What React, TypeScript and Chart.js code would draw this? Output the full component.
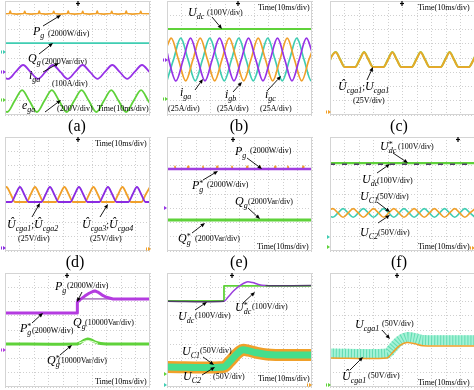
import React, { useEffect, useRef } from "react";
import { Chart, registerables } from "chart.js";
Chart.register(...registerables);

type Pt = [number, number];

// ---------------- (a) ----------------
const aPg: Pt[] = [[0,7.1],[0.3,7.12],[0.36,7.3],[0.42,7.12],[0.8,7.08],[1.3,7.12],[1.36,7.28],[1.42,7.12],[1.8,7.08],[2.3,7.12],[2.36,7.3],[2.42,7.12],[2.8,7.08],[3.3,7.12],[3.36,7.28],[3.42,7.12],[3.8,7.08],[4.3,7.12],[4.36,7.3],[4.42,7.12],[4.8,7.08],[5.3,7.12],[5.36,7.28],[5.42,7.12],[5.8,7.08],[6.3,7.12],[6.36,7.3],[6.42,7.12],[6.8,7.08],[7.3,7.12],[7.36,7.28],[7.42,7.12],[7.8,7.08],[8.3,7.12],[8.36,7.3],[8.42,7.12],[8.8,7.08],[9.3,7.12],[9.36,7.28],[9.42,7.12],[10,7.1]];
const aQg: Pt[] = [[0,5.05],[10,5.05]];
const aIga: Pt[] = [[0,2.6],[0.22,2.53],[0.73,3.02],[1.25,3.51],[1.76,3.02],[2.28,2.53],[2.79,3.02],[3.3,3.51],[3.82,3.02],[4.33,2.53],[4.84,3.02],[5.35,3.51],[5.86,3.02],[6.38,2.53],[6.89,3.02],[7.4,3.51],[7.91,3.02],[8.43,2.53],[8.94,3.02],[9.45,3.51],[9.96,3.02],[10,2.98]];
const aEga: Pt[] = [[0,0.25],[0.15,0.21],[0.66,0.98],[1.18,1.75],[1.69,0.98],[2.2,0.21],[2.71,0.98],[3.23,1.75],[3.74,0.98],[4.25,0.21],[4.76,0.98],[5.28,1.75],[5.79,0.98],[6.3,0.21],[6.81,0.98],[7.33,1.75],[7.84,0.98],[8.35,0.21],[8.86,0.98],[9.38,1.75],[9.89,0.98],[10,0.82]];

// ---------------- (b) ----------------
const bUdc: Pt[] = [[0,6.04],[10,6.04]];
const bIga: Pt[] = [[0,4.45],[0.12,3.89],[0.62,2.39],[1.12,3.89],[1.62,5.39],[2.12,3.89],[2.62,2.39],[3.12,3.89],[3.62,5.39],[4.12,3.89],[4.62,2.39],[5.12,3.89],[5.62,5.39],[6.12,3.89],[6.62,2.39],[7.12,3.89],[7.62,5.39],[8.12,3.89],[8.62,2.39],[9.12,3.89],[9.62,5.39],[10,4.45]];
const bIgb: Pt[] = [[0,4.82],[0.29,5.39],[0.79,3.89],[1.29,2.39],[1.79,3.89],[2.29,5.39],[2.79,3.89],[3.29,2.39],[3.79,3.89],[4.29,5.39],[4.79,3.89],[5.29,2.39],[5.79,3.89],[6.29,5.39],[6.79,3.89],[7.29,2.39],[7.79,3.89],[8.29,5.39],[8.79,3.89],[9.29,2.39],[9.79,3.89],[10,4.45]];
const bIgc: Pt[] = [[0,2.41],[0.45,3.89],[0.95,5.39],[1.45,3.89],[1.95,2.39],[2.45,3.89],[2.95,5.39],[3.45,3.89],[3.95,2.39],[4.45,3.89],[4.95,5.39],[5.45,3.89],[5.95,2.39],[6.45,3.89],[6.95,5.39],[7.45,3.89],[7.95,2.39],[8.45,3.89],[8.95,5.39],[9.45,3.89],[9.95,2.39],[10,2.4]];

// ---------------- (c) ----------------
const cUcgaHat: Pt[] = [[0,3.85],[0.1,4.1],[0.4,4.42],[0.7,3.9],[1.02,3.37],[1.73,3.37],[2.05,3.9],[2.35,4.42],[2.65,3.9],[2.97,3.37],[3.68,3.37],[4.0,3.9],[4.3,4.42],[4.6,3.9],[4.92,3.37],[5.63,3.37],[5.95,3.9],[6.25,4.42],[6.55,3.9],[6.87,3.37],[7.63,3.37],[7.95,3.9],[8.25,4.42],[8.55,3.9],[8.87,3.37],[9.58,3.37],[9.9,3.9],[10,4.1]];
const cUcga: Pt[] = [[0,3.83],[0.1,4.08],[0.4,4.4],[0.7,3.88],[1.02,3.36],[1.73,3.36],[2.05,3.88],[2.35,4.4],[2.65,3.88],[2.97,3.36],[3.68,3.36],[4.0,3.88],[4.3,4.4],[4.6,3.88],[4.92,3.36],[5.63,3.36],[5.95,3.88],[6.25,4.4],[6.55,3.88],[6.87,3.36],[7.63,3.36],[7.95,3.88],[8.25,4.4],[8.55,3.88],[8.87,3.36],[9.58,3.36],[9.9,3.88],[10,4.08]];

// ---------------- (d) ----------------
const dUcga12: Pt[] = [[0,3.44],[0.43,3.44],[0.73,3.97],[1.03,4.49],[1.33,3.97],[1.63,3.44],[2.5,3.44],[2.8,3.97],[3.1,4.49],[3.4,3.97],[3.7,3.44],[4.5,3.44],[4.8,3.97],[5.1,4.49],[5.4,3.97],[5.7,3.44],[6.5,3.44],[6.8,3.97],[7.1,4.49],[7.4,3.97],[7.7,3.44],[8.5,3.44],[8.8,3.97],[9.1,4.49],[9.4,3.97],[9.7,3.44],[10,3.44]];
const dUcga34: Pt[] = [[0,4.4],[0.1,4.49],[0.4,3.97],[0.7,3.44],[1.47,3.44],[1.77,3.97],[2.07,4.49],[2.37,3.97],[2.67,3.44],[3.5,3.44],[3.8,3.97],[4.1,4.49],[4.4,3.97],[4.7,3.44],[5.5,3.44],[5.8,3.97],[6.1,4.49],[6.4,3.97],[6.7,3.44],[7.5,3.44],[7.8,3.97],[8.1,4.49],[8.4,3.97],[8.7,3.44],[9.4,3.44],[9.7,3.97],[10,4.49]];

// ---------------- (e) ----------------
const ePg: Pt[] = [[0,5.76],[0.5,5.76],[0.55,5.95],[0.6,5.76],[1.4,5.76],[1.45,5.95],[1.5,5.76],[2.43,5.76],[2.48,5.95],[2.53,5.76],[3.4,5.76],[3.45,5.95],[3.5,5.76],[4.43,5.76],[4.48,5.95],[4.53,5.76],[5.47,5.76],[5.52,5.95],[5.57,5.76],[6.36,5.76],[6.41,5.95],[6.46,5.76],[7.4,5.76],[7.45,5.95],[7.5,5.76],[8.29,5.76],[8.34,5.95],[8.39,5.76],[9.33,5.76],[9.38,5.95],[9.43,5.76],[10,5.76]];
const ePgRef: Pt[] = [[0,5.75],[10,5.75]];
const eQg: Pt[] = [[0,2.18],[10,2.18]];

// ---------------- (f) ----------------
const fUdcRef: Pt[] = [[0,6.17],[10,6.17]];
const fUdc: Pt[] = [[0,6.09],[10,6.09]];
const fUc1: Pt[] = [[0,2.42],[0.2,2.37],[0.55,2.67],[0.9,2.97],[1.25,2.67],[1.6,2.37],[1.95,2.67],[2.3,2.97],[2.65,2.67],[3.0,2.37],[3.35,2.67],[3.7,2.97],[4.05,2.67],[4.4,2.37],[4.75,2.67],[5.1,2.97],[5.45,2.67],[5.8,2.37],[6.15,2.67],[6.5,2.97],[6.85,2.67],[7.2,2.37],[7.55,2.67],[7.9,2.97],[8.25,2.67],[8.6,2.37],[8.95,2.67],[9.3,2.97],[9.65,2.67],[10,2.37]];
const fUc2: Pt[] = [[0,2.92],[0.2,2.97],[0.55,2.67],[0.9,2.37],[1.25,2.67],[1.6,2.97],[1.95,2.67],[2.3,2.37],[2.65,2.67],[3.0,2.97],[3.35,2.67],[3.7,2.37],[4.05,2.67],[4.4,2.97],[4.75,2.67],[5.1,2.37],[5.45,2.67],[5.8,2.97],[6.15,2.67],[6.5,2.37],[6.85,2.67],[7.2,2.97],[7.55,2.67],[7.9,2.37],[8.25,2.67],[8.6,2.97],[8.95,2.67],[9.3,2.37],[9.65,2.67],[10,2.97]];

// ---------------- (g) ----------------
const gPg: Pt[] = [[0,5.19],[4.97,5.19],[4.99,5.96],[5.2,6.15],[5.5,6.38],[5.8,6.58],[6.05,6.7],[6.2,6.74],[6.4,6.66],[6.7,6.45],[7.0,6.3],[7.45,6.18],[10,6.18]];
const gPgRef: Pt[] = [[0,5.19],[4.97,5.19],[4.97,6.18],[10,6.18]];
const gQg: Pt[] = [[0,3.02],[4.95,3.02],[5.2,3.12],[5.45,3.28],[5.7,3.37],[5.95,3.3],[6.25,3.15],[6.6,3.05],[7,3.02],[10,3.02]];
const gQgRef: Pt[] = [[5.1,3.08],[5.45,3.2],[5.7,3.26],[6.0,3.2],[6.4,3.06]];

// ---------------- (h) ----------------
const hUdcRef: Pt[] = [[0,6.04],[3.93,6.04],[3.93,7.09],[10,7.09]];
const hUdc: Pt[] = [[0,6.02],[3.93,6.02],[4.2,6.3],[4.6,6.75],[5.0,7.1],[5.5,7.37],[5.9,7.33],[6.3,7.2],[6.8,7.12],[7.3,7.1],[10,7.12]];
const hUc1: Pt[] = [[0,1.4],[3.9,1.4],[4.3,1.75],[4.8,2.3],[5.2,2.6],[5.6,2.55],[6.2,2.4],[6.9,2.28],[7.5,2.25],[10,2.25]];
const hUc2: Pt[] = [[0,1.4],[3.9,1.4],[4.3,1.75],[4.8,2.3],[5.2,2.6],[5.6,2.55],[6.2,2.4],[6.9,2.28],[7.5,2.25],[10,2.25]];

// ---------------- (i) ----------------
const iUcga: Pt[] = [[0,2.35],[3.93,2.35],[4.3,2.72],[4.8,3.25],[5.3,3.5],[5.8,3.45],[6.4,3.3],[10,3.28]];
const iUcgaHat: Pt[] = [[0,2.04],[3.93,2.04],[4.3,2.4],[4.8,2.9],[5.3,3.12],[5.8,3.05],[6.4,2.9],[10,2.88]];

// ---------------- captions ----------------
const captions: [string, number, number][] = [["(a)",77,126],["(b)",239,126],["(c)",399,126],["(d)",75,262],["(e)",239,262],["(f)",399,262]];

const ORANGE = "#f0a02a", CYAN = "#3fcdb2", PURPLE = "#9632e6", GREEN = "#5fd23a", VIOLET = "#8a2be2", MAG = "#b43ce0", DARK = "#4e3d66", MINT = "#45de8c";

type Series = { data: Pt[]; color: string; width: number; m?: boolean; t?: number; dash?: number[]; seg?: [number, number, string] };
type Part = [string, string];
type Label = { x: number; y: number; parts: Part[] };
type Marker = [number, number, string];
type PanelCfg = { id: string; left: number; top: number; trig: number; series: Series[]; labels: Label[]; arrows: number[][]; marks: Marker[] };

const L = (x: number, y: number, parts: Part[]): Label => ({ x, y, parts });
const TX = (x: number, y: number, s: string): Label => ({ x, y, parts: [[s, "t"]] });
const TIME = "Time(10ms/div)";

// series listed bottom-to-top (later = drawn on top)
const panels: PanelCfg[] = [
  { id: "a", left: 5, top: 1, trig: 73,
    series: [
      { data: aPg, color: ORANGE, width: 1.6 },
      { data: aQg, color: CYAN, width: 1.8 },
      { data: aIga, color: PURPLE, width: 1.8, m: true },
      { data: aEga, color: GREEN, width: 1.8, m: true },
    ],
    labels: [
      L(28, 34, [["P","v"],["g","s"]]), TX(43, 35, "(2000W/div)"),
      L(23, 61, [["Q","v"],["g","s"]]), TX(37, 63, "(2000Var/div)"),
      L(24, 78, [["i","v"],["ga","s"]]), TX(47, 85, "(100A/div)"),
      L(17, 108, [["e","v"],["ga","s"]]), TX(52, 110, "(200V/div)"),
      TX(92, 110, TIME),
    ],
    arrows: [[38,25,56,14],[34,53,48,42],[38,71,54,62],[40,111,56,99]],
    marks: [[-2,51,CYAN],[-2,71,PURPLE],[-2,99,GREEN]] },
  { id: "b", left: 167, top: 1, trig: 71,
    series: [
      { data: bUdc, color: GREEN, width: 2 },
      { data: bIgc, color: CYAN, width: 1.7, m: true },
      { data: bIgb, color: ORANGE, width: 1.7, m: true },
      { data: bIga, color: PURPLE, width: 1.7, m: true },
    ],
    labels: [
      L(21, 15, [["U","v"],["dc","s"]]), TX(40, 14, "(100V/div)"), TX(91, 9, TIME),
      L(13, 95, [["i","v"],["ga","s"]]), TX(1, 110, "(25A/div)"),
      L(58, 97, [["i","v"],["gb","s"]]), TX(50, 110, "(25A/div)"),
      L(98, 97, [["i","v"],["gc","s"]]), TX(93, 110, "(25A/div)"),
    ],
    arrows: [[45,16,55,28],[28,89,36,78],[66,91,75,81],[101,89,114,75]],
    marks: [[-2,59,PURPLE],[-2,98,GREEN]] },
  { id: "c", left: 330, top: 1, trig: 72,
    series: [
      { data: cUcgaHat, color: "#9ccf3a", width: 2.2, m: true },
      { data: cUcga, color: "#eba52a", width: 1.7, m: true },
    ],
    labels: [
      TX(88, 9, TIME),
      L(8, 89, [["Û","v"],["cga1","s"],[";","c"],["U","v"],["cga1","s"]]), TX(23, 102, "(25V/div)"),
    ],
    arrows: [[37,79,43,66]],
    marks: [[-2,111,ORANGE]] },
  { id: "d", left: 5, top: 137, trig: 73,
    series: [
      { data: dUcga34, color: ORANGE, width: 1.8, m: true },
      { data: dUcga12, color: VIOLET, width: 1.8, m: true },
    ],
    labels: [
      TX(90, 9, TIME),
      L(2, 91, [["Û","v"],["cga1","s"],[";","c"],["Û","v"],["cga2","s"]]), TX(13, 104, "(25V/div)"),
      L(77, 91, [["Û","v"],["cga3","s"],[";","c"],["Û","v"],["cga4","s"]]), TX(85, 104, "(25V/div)"),
    ],
    arrows: [[27,80,35,66],[95,80,103,67]],
    marks: [[-2,111,VIOLET],[143,112,ORANGE]] },
  { id: "e", left: 167, top: 137, trig: 66,
    series: [
      { data: ePg, color: ORANGE, width: 1.5 },
      { data: ePgRef, color: "#a03ee0", width: 2.4 },
      { data: eQg, color: GREEN, width: 3 },
    ],
    labels: [
      L(68, 18, [["P","v"],["g","s"]]), TX(83, 16, "(2000W/div)"),
      L(25, 52, [["P","v"],["*","p"],["g","s"]]), TX(40, 50, "(2000W/div)"),
      L(68, 68, [["Q","v"],["g","s"]]), TX(81, 67, "(2000Var/div)"),
      L(11, 105, [["Q","v"],["*","p"],["g","s"]]), TX(28, 104, "(2000Var/div)"),
      TX(90, 112, TIME),
    ],
    arrows: [[80,21,95,32],[36,43,51,34],[81,71,93,82],[25,96,38,86]],
    marks: [[-3,71,PURPLE]] },
  { id: "f", left: 330, top: 137, trig: 128,
    series: [
      { data: fUdcRef, color: GREEN, width: 2.4 },
      { data: fUdc, color: DARK, width: 1.5, dash: [5, 7] },
      { data: fUc1, color: CYAN, width: 1.7, m: true },
      { data: fUc2, color: ORANGE, width: 1.7, m: true },
    ],
    labels: [
      L(50, 13, [["U","v"],["*","p"],["dc","s"]]), TX(68, 12, "(100V/div)"),
      L(32, 46, [["U","v"],["dc","s"]]), TX(47, 46, "(100V/div)"),
      L(30, 63, [["U","v"],["C1","s"]]), TX(47, 62, "(50V/div)"),
      L(30, 99, [["U","v"],["C2","s"]]), TX(48, 98, "(50V/div)"),
      TX(88, 112, TIME),
    ],
    arrows: [[63,16,78,26],[47,36,60,27],[47,65,60,75],[48,86,60,78]],
    marks: [[-3,100,CYAN],[-3,110,GREEN],[142,111,ORANGE]] },
  { id: "g", left: 5, top: 273, trig: 62,
    series: [
      { data: gPgRef, color: "#7a2a9a", width: 1 },
      { data: gPg, color: MAG, width: 3 },
      { data: gQg, color: GREEN, width: 3, t: 0.3 },
      { data: gQgRef, color: "#e4ffd6", width: 1, t: 0.3 },
    ],
    labels: [
      L(50, 17, [["P","v"],["g","s"]]), TX(62, 15, "(2000W/div)"),
      L(15, 59, [["P","v"],["*","p"],["g","s"]]), TX(27, 60, "(2000W/div)"),
      L(68, 53, [["Q","v"],["g","s"]]), TX(80, 52, "(10000Var/div)"),
      L(42, 91, [["Q","v"],["*","p"],["g","s"]]), TX(53, 90, "(10000Var/div)"),
      TX(90, 111, TIME),
    ],
    arrows: [[77,19,72,29],[27,50,38,40],[55,82,67,72]],
    marks: [[-2,77,MAG]] },
  { id: "h", left: 167, top: 273, trig: 65,
    series: [
      { data: hUc1, color: ORANGE, width: 12, t: 0.3 },
      { data: hUc2, color: MINT, width: 7, t: 0.3 },
      { data: hUdcRef, color: GREEN, width: 1.8 },
      { data: hUdc, color: DARK, width: 1.5, t: 0.3, seg: [3.9, 7.0, "#9a3fdc"] },
    ],
    labels: [
      L(11, 47, [["U","v"],["dc","s"]]), TX(28, 45, "(100V/div)"),
      L(68, 38, [["U","v"],["*","p"],["dc","s"]]), TX(85, 36, "(100V/div)"),
      L(15, 82, [["U","v"],["C1","s"]]), TX(33, 80, "(50V/div)"),
      L(16, 107, [["U","v"],["C2","s"]]), TX(46, 106, "(50V/div)"),
      TX(91, 108, TIME),
    ],
    arrows: [[28,37,40,29],[76,30,88,19],[36,84,47,92],[35,102,48,94]],
    marks: [[-3,101,GREEN],[-3,112,CYAN],[142,112,ORANGE]] },
  { id: "i", left: 330, top: 273, trig: 67,
    series: [
      { data: iUcga, color: "#a4f2d6", width: 10, t: 0.3 },
      { data: iUcga, color: "#62dcb2", width: 10, t: 0.3, dash: [1, 2] },
      { data: iUcgaHat, color: ORANGE, width: 1.5, t: 0.3 },
    ],
    labels: [
      L(25, 55, [["U","v"],["cga1","s"]]), TX(52, 53, "(50V/div)"),
      L(12, 107, [["Û","v"],["cga1","s"]]), TX(38, 105, "(50V/div)"),
      TX(88, 112, TIME),
    ],
    arrows: [[52,57,60,66],[20,97,33,84]],
    marks: [[-2,112,GREEN]] },
];

const PW = 145, PH = 114, PAD = 4;
const FONT = '"Liberation Serif", "Times New Roman", serif';

function drawRich(ctx: CanvasRenderingContext2D, x: number, y: number, parts: Part[]) {
  let cx = x;
  for (const [t, k] of parts) {
    let font = `8px ${FONT}`, dy = 0, adv = true;
    if (k === "v") font = `italic 12px ${FONT}`;
    else if (k === "s") { font = `italic 8px ${FONT}`; dy = 3; }
    else if (k === "p") { font = `8px ${FONT}`; dy = -3; adv = false; }
    else if (k === "c") font = `10px ${FONT}`;
    ctx.font = font;
    ctx.fillText(t, cx, y + dy);
    if (adv) cx += ctx.measureText(t).width;
  }
}

function drawArrow(ctx: CanvasRenderingContext2D, x1: number, y1: number, x2: number, y2: number) {
  const ang = Math.atan2(y2 - y1, x2 - x1);
  const hl = 4.5, hw = 1.9;
  const bx = x2 - hl * Math.cos(ang), by = y2 - hl * Math.sin(ang);
  ctx.lineWidth = 0.9;
  ctx.beginPath(); ctx.moveTo(x1, y1); ctx.lineTo(bx, by); ctx.stroke();
  ctx.beginPath(); ctx.moveTo(x2, y2);
  ctx.lineTo(bx + hw * Math.sin(ang), by - hw * Math.cos(ang));
  ctx.lineTo(bx - hw * Math.sin(ang), by + hw * Math.cos(ang));
  ctx.closePath(); ctx.fill();
}

function drawOverlay(chart: Chart, p: PanelCfg) {
  const ctx = chart.ctx;
  const a = chart.chartArea;
  ctx.save();
  ctx.setLineDash([]);
  ctx.strokeStyle = "#d4d4d4"; ctx.lineWidth = 1;
  ctx.strokeRect(a.left + 0.5, a.top + 0.5, a.right - a.left - 1, a.bottom - a.top - 1);
  for (const [mx, my, mc] of p.marks) {
    const x = a.left + mx, y = a.top + my;
    ctx.fillStyle = mc;
    ctx.beginPath(); ctx.moveTo(x, y - 2); ctx.lineTo(x + 3, y); ctx.lineTo(x, y + 2); ctx.closePath(); ctx.fill();
    ctx.fillRect(x - 2, y - 1.5, 1, 3);
  }
  ctx.fillStyle = "#000"; ctx.strokeStyle = "#000";
  const tx = a.left + p.trig;
  ctx.lineWidth = 1.2;
  ctx.beginPath(); ctx.moveTo(tx, a.top); ctx.lineTo(tx, a.top + 5); ctx.stroke();
  ctx.beginPath(); ctx.moveTo(tx - 2, a.top + 2.5); ctx.lineTo(tx + 2, a.top + 2.5); ctx.stroke();
  for (const ar of p.arrows) drawArrow(ctx, a.left + ar[0], a.top + ar[1], a.left + ar[2], a.top + ar[3]);
  ctx.textBaseline = "alphabetic";
  for (const l of p.labels) drawRich(ctx, a.left + l.x, a.top + l.y, l.parts);
  ctx.restore();
}

function Panel({ p }: { p: PanelCfg }) {
  const ref = useRef<HTMLCanvasElement>(null);
  useEffect(() => {
    const n = p.series.length;
    const gridOpts = { color: "#cfcfcf", lineWidth: 1, drawTicks: false };
    const chart = new Chart(ref.current!, {
      type: "line",
      data: {
        datasets: p.series.map((s, i) => ({
          data: s.data.map(([x, y]) => ({ x, y })),
          borderColor: s.color,
          borderWidth: s.width,
          borderDash: s.dash || [],
          pointRadius: 0,
          fill: false,
          tension: s.t || 0,
          cubicInterpolationMode: s.m ? "monotone" : "default",
          borderCapStyle: "butt",
          borderJoinStyle: "round",
          order: n - i,
          segment: s.seg ? {
            borderColor: (c: any) => (c.p0.parsed.x >= s.seg![0] && c.p1.parsed.x <= s.seg![1] ? s.seg![2] : undefined),
          } : undefined,
        })),
      } as any,
      options: {
        responsive: false,
        animation: false,
        devicePixelRatio: 1,
        events: [],
        layout: { padding: PAD },
        plugins: { legend: { display: false }, tooltip: { enabled: false } },
        scales: {
          x: { type: "linear", min: 0, max: 10, ticks: { display: false, stepSize: 1 }, grid: gridOpts, border: { display: false, dash: [1, 2] } },
          y: { type: "linear", min: 0, max: 8, ticks: { display: false, stepSize: 1 }, grid: gridOpts, border: { display: false, dash: [1, 2] } },
        },
      } as any,
      plugins: [{ id: "overlay" + p.id, afterDraw: (c: Chart) => drawOverlay(c, p) }],
    });
    return () => chart.destroy();
  }, []);
  return (
    <canvas ref={ref} width={PW + 2 * PAD} height={PH + 2 * PAD}
      style={{ position: "absolute", left: p.left - PAD, top: p.top - PAD, width: PW + 2 * PAD, height: PH + 2 * PAD }} />
  );
}

export default function App() {
  return (
    <div style={{ position: "absolute", left: 0, top: 0, width: 474, height: 390, background: "#fff", overflow: "hidden", fontFamily: FONT }}>
      {panels.map((p) => <Panel key={p.id} p={p} />)}
      {captions.map(([t, x, y]) => (
        <div key={t} style={{ position: "absolute", left: x - 20, top: y - 10, width: 40, textAlign: "center", fontSize: 16, lineHeight: "20px", color: "#000" }}>{t}</div>
      ))}
    </div>
  );
}
